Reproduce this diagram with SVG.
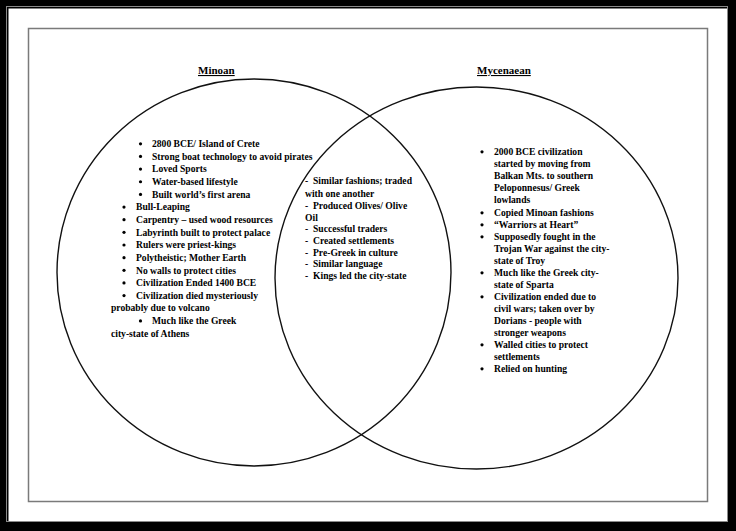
<svg xmlns="http://www.w3.org/2000/svg" width="736" height="531" viewBox="0 0 736 531">
<style>
  .t { font-family: "Liberation Serif", "Times New Roman", serif; font-weight: bold; font-size: 9.6px; fill: #000; }
  .title { font-family: "Liberation Serif", "Times New Roman", serif; font-weight: bold; font-size: 11px; fill: #000; text-decoration: underline; }
  .ring { fill: none; stroke: #111; stroke-width: 1.4; }
  .b { fill: #000; }
</style>
<g id="frame">
  <rect x="0" y="0" width="736" height="531" fill="#000"/>
  <rect x="8.5" y="8.5" width="718.5" height="512.5" fill="#fff"/>
  <rect x="6.5" y="6.5" width="721" height="515" fill="none" stroke="#8a8a8a" stroke-width="1"/>
  <rect x="28.5" y="28.5" width="679" height="473" fill="none" stroke="#7a7a7a" stroke-width="1.5"/>
</g>
<g id="connectors"></g>
<g id="node-minoan">
  <ellipse class="ring" cx="254" cy="272.5" rx="197" ry="193.5"/>
  <text class="title" x="198" y="74">Minoan</text>
  <g class="b">
    <circle cx="140.5" cy="143.8" r="1.6"/>
    <circle cx="140.5" cy="156.45" r="1.6"/>
    <circle cx="140.5" cy="169.1" r="1.6"/>
    <circle cx="140.5" cy="181.75" r="1.6"/>
    <circle cx="140.5" cy="194.4" r="1.6"/>
    <circle cx="124" cy="207.05" r="1.6"/>
    <circle cx="124" cy="219.7" r="1.6"/>
    <circle cx="124" cy="232.35" r="1.6"/>
    <circle cx="124" cy="245" r="1.6"/>
    <circle cx="124" cy="257.65" r="1.6"/>
    <circle cx="124" cy="270.3" r="1.6"/>
    <circle cx="124" cy="282.95" r="1.6"/>
    <circle cx="124" cy="295.6" r="1.6"/>
    <circle cx="140.5" cy="320.9" r="1.6"/>
  </g>
  <text class="t" x="152" y="147">2800 BCE/ Island of Crete</text>
  <text class="t" x="152" y="159.65">Strong boat technology to avoid pirates</text>
  <text class="t" x="152" y="172.3">Loved Sports</text>
  <text class="t" x="152" y="184.95">Water-based lifestyle</text>
  <text class="t" x="152" y="197.6">Built world’s first arena</text>
  <text class="t" x="136" y="210.25">Bull-Leaping</text>
  <text class="t" x="136" y="222.9">Carpentry – used wood resources</text>
  <text class="t" x="136" y="235.55">Labyrinth built to protect palace</text>
  <text class="t" x="136" y="248.2">Rulers were priest-kings</text>
  <text class="t" x="136" y="260.85">Polytheistic; Mother Earth</text>
  <text class="t" x="136" y="273.5">No walls to protect cities</text>
  <text class="t" x="136" y="286.15">Civilization Ended 1400 BCE</text>
  <text class="t" x="136" y="298.8">Civilization died mysteriously</text>
  <text class="t" x="111" y="311.45">probably due to volcano</text>
  <text class="t" x="152" y="324.1">Much like the Greek</text>
  <text class="t" x="111" y="336.75">city-state of Athens</text>
</g>
<g id="node-mycenaean">
  <ellipse class="ring" cx="476.5" cy="278" rx="201.5" ry="191"/>
  <text class="title" x="477" y="74">Mycenaean</text>
  <g class="b">
    <circle cx="482" cy="151.8" r="1.6"/>
    <circle cx="482" cy="212.8" r="1.6"/>
    <circle cx="482" cy="224.8" r="1.6"/>
    <circle cx="482" cy="236.8" r="1.6"/>
    <circle cx="482" cy="272.8" r="1.6"/>
    <circle cx="482" cy="296.8" r="1.6"/>
    <circle cx="482" cy="344.8" r="1.6"/>
    <circle cx="482" cy="368.8" r="1.6"/>
  </g>
  <text class="t" x="494" y="155">2000 BCE civilization</text>
  <text class="t" x="494" y="167">started by moving from</text>
  <text class="t" x="494" y="179">Balkan Mts. to southern</text>
  <text class="t" x="494" y="191">Peloponnesus/ Greek</text>
  <text class="t" x="494" y="203">lowlands</text>
  <text class="t" x="494" y="216">Copied Minoan fashions</text>
  <text class="t" x="494" y="228">“Warriors at Heart”</text>
  <text class="t" x="494" y="240">Supposedly fought in the</text>
  <text class="t" x="494" y="252">Trojan War against the city-</text>
  <text class="t" x="494" y="264">state of Troy</text>
  <text class="t" x="494" y="276">Much like the Greek city-</text>
  <text class="t" x="494" y="288">state of Sparta</text>
  <text class="t" x="494" y="300">Civilization ended due to</text>
  <text class="t" x="494" y="312">civil wars; taken over by</text>
  <text class="t" x="494" y="324">Dorians - people with</text>
  <text class="t" x="494" y="336">stronger weapons</text>
  <text class="t" x="494" y="348">Walled cities to protect</text>
  <text class="t" x="494" y="360">settlements</text>
  <text class="t" x="494" y="372">Relied on hunting</text>
</g>
<g id="node-overlap">
  <text class="t" x="305" y="184">-<tspan x="313">Similar fashions; traded</tspan></text>
  <text class="t" x="305" y="196.5">with one another</text>
  <text class="t" x="305" y="208.5">-<tspan x="313">Produced Olives/ Olive</tspan></text>
  <text class="t" x="305" y="220.5">Oil</text>
  <text class="t" x="305" y="231.5">-<tspan x="313">Successful traders</tspan></text>
  <text class="t" x="305" y="243.5">-<tspan x="313">Created settlements</tspan></text>
  <text class="t" x="305" y="255.5">-<tspan x="313">Pre-Greek in culture</tspan></text>
  <text class="t" x="305" y="267">-<tspan x="313">Similar language</tspan></text>
  <text class="t" x="305" y="279">-<tspan x="313">Kings led the city-state</tspan></text>
</g>
</svg>
